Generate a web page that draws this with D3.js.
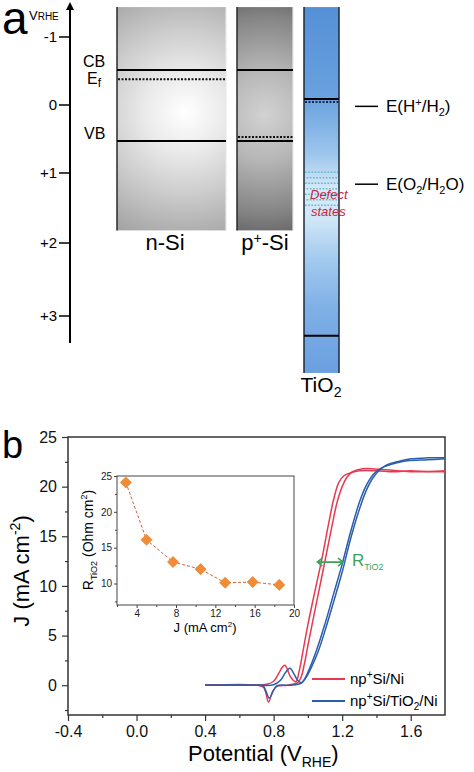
<!DOCTYPE html>
<html>
<head>
<meta charset="utf-8">
<script src="https://cdn.jsdelivr.net/npm/d3@7"></script>
<style>
  body { margin: 0; background: #fff; }
  svg { display: block; font-family: "Liberation Sans", Arial, sans-serif; }
</style>
</head>
<body>
<svg id="chart" width="474" height="772"></svg>
<script>
// ---------- panel a : band edges, V vs RHE ----------
const materials   = ["n-Si", "p+-Si", "TiO2"];
const cbLevels    = [-0.515, -0.515, -0.09];
const vbLevels    = [0.53, 0.53, 3.27];
const fermiLevels = [-0.38, 0.47, -0.045];
const boxTop      = -1.44;
const boxBottoms  = [1.82, 1.82, 3.78];
const energyTicks      = [-1, 0, 1, 2, 3];
const energyTickLabels = ["-1", "0", "+1", "+2", "+3"];
const redoxLevels = [0.02, 1.16];
const defectRange = [0.99, 1.5];

// ---------- panel b : LSV scans [V_RHE, mA cm-2] ----------
const redFwd = [[0.40,0.05],[0.60,0.05],[0.76,0.1],[0.80,0.4],[0.83,1.2],[0.85,1.8],[0.866,2.0],[0.88,1.6],
  [0.90,0.8],[0.93,0.35],[0.95,1.5],[0.97,3.3],[1.00,6.1],[1.04,9.4],[1.08,12.6],[1.12,16.2],[1.15,18.7],
  [1.18,20.4],[1.21,21.1],[1.25,21.4],[1.30,21.6],[1.40,21.6],[1.50,21.5],[1.60,21.6],[1.70,21.5],[1.80,21.5]];
const redRev = [[1.80,21.6],[1.60,21.5],[1.45,21.7],[1.32,21.8],[1.26,21.5],[1.23,21.0],[1.20,20.0],[1.17,18.4],
  [1.14,16.0],[1.11,13.4],[1.07,10.0],[1.03,6.6],[1.00,4.0],[0.98,2.2],[0.96,0.8],[0.94,0.25],[0.88,0.0],
  [0.82,-0.1],[0.795,-0.6],[0.77,-1.7],[0.755,-0.8],[0.74,-0.2],[0.70,0.0],[0.40,0.0]];
const blueFwd = [[0.40,0.0],[0.70,0.0],[0.80,0.05],[0.84,0.5],[0.87,1.3],[0.895,1.7],[0.92,1.1],[0.94,0.5],
  [0.963,0.25],[0.98,0.6],[1.00,1.3],[1.05,3.5],[1.10,6.2],[1.15,9.2],[1.20,12.2],[1.25,15.5],[1.30,18.4],
  [1.34,20.1],[1.38,21.2],[1.42,21.8],[1.46,22.1],[1.52,22.4],[1.58,22.6],[1.70,22.7],[1.80,22.8]];
const blueRev = [[1.80,22.9],[1.70,22.9],[1.60,22.8],[1.52,22.5],[1.46,22.2],[1.42,21.7],[1.38,20.9],[1.34,19.6],
  [1.30,17.7],[1.25,14.8],[1.20,11.4],[1.15,8.4],[1.10,5.5],[1.06,3.4],[1.02,1.8],[0.99,0.8],[0.96,0.2],
  [0.90,0.0],[0.82,-0.05],[0.80,-0.5],[0.775,-1.3],[0.755,-0.6],[0.74,-0.1],[0.70,0.0],[0.40,0.0]];
const arrowLevel = 12.4;
const arrowSpan  = [1.055, 1.205];

// ---------- inset ----------
const insetJ = [2.9, 5.0, 7.7, 10.5, 13.0, 15.8, 18.5];
const insetR = [24.1, 16.1, 13.0, 12.0, 10.1, 10.2, 9.8];

const svg = d3.select("#chart");
const defs = svg.append("defs");

// gradients
const gN = defs.append("radialGradient").attr("id", "gN")
  .attr("gradientUnits", "userSpaceOnUse").attr("cx", 185).attr("cy", 112).attr("r", 135);
[[0, "#ffffff"], [0.3, "#eaeaea"], [0.6, "#cdcdcd"], [1, "#a2a2a2"]]
  .forEach(s => gN.append("stop").attr("offset", s[0]).attr("stop-color", s[1]));
const gP = defs.append("radialGradient").attr("id", "gP")
  .attr("gradientUnits", "userSpaceOnUse").attr("cx", 265).attr("cy", 115).attr("r", 130);
[[0, "#d2d2d2"], [0.35, "#b6b6b6"], [0.75, "#858585"], [1, "#5c5c5c"]]
  .forEach(s => gP.append("stop").attr("offset", s[0]).attr("stop-color", s[1]));
const gT = defs.append("linearGradient").attr("id", "gT")
  .attr("gradientUnits", "userSpaceOnUse").attr("x1", 0).attr("x2", 0).attr("y1", 7).attr("y2", 373);
[[0, "#5590d6"], [0.25, "#6aa2df"], [0.4, "#9cc5ec"], [0.5, "#d8eaf9"], [0.58, "#d0e6f7"],
 [0.68, "#a6ccef"], [0.82, "#7fb0e6"], [1, "#6a9fe0"]]
  .forEach(s => gT.append("stop").attr("offset", s[0]).attr("stop-color", s[1]));

// ================= panel a =================
const ey = d3.scaleLinear().domain([-1, 0, 1, 2, 3]).range([37, 105, 173, 243, 316]);
const axX = 70;

svg.append("text").attr("x", 2).attr("y", 34).style("font-size", "46px").text("a");

const vlab = svg.append("text").attr("x", 29).attr("y", 20).style("font-size", "13px");
vlab.append("tspan").text("V");
vlab.append("tspan").style("font-size", "10px").text("RHE");

svg.append("line").attr("x1", axX).attr("x2", axX).attr("y1", 343).attr("y2", 8)
  .attr("stroke", "#000").attr("stroke-width", 2);
svg.append("path").attr("d", `M${axX - 4},10 L${axX},2 L${axX + 4},10 Z`).attr("fill", "#000");

const eTicks = svg.append("g");
energyTicks.forEach((t, i) => {
  eTicks.append("line").attr("x1", axX - 11).attr("x2", axX).attr("y1", ey(t)).attr("y2", ey(t))
    .attr("stroke", "#000").attr("stroke-width", 1.5);
  eTicks.append("text").attr("x", axX - 13).attr("y", ey(t)).attr("dy", "0.35em")
    .attr("text-anchor", "end").style("font-size", "15px").text(energyTickLabels[i]);
});

// columns: [left, right], fills
const cols = [[117, 226], [237, 293], [304, 339]];
const fills = ["url(#gN)", "url(#gP)", "url(#gT)"];

materials.forEach((m, i) => {
  const [x0, x1] = cols[i];
  svg.append("rect").attr("x", x0).attr("y", ey(boxTop)).attr("width", x1 - x0)
    .attr("height", ey(boxBottoms[i]) - ey(boxTop)).attr("fill", fills[i]);
  if (i < 2) {
    svg.append("line").attr("x1", x0).attr("x2", x0).attr("y1", ey(boxTop)).attr("y2", ey(boxBottoms[i]))
      .attr("stroke", "#2a2a2a").attr("stroke-width", 1.5);
    svg.append("line").attr("x1", x1).attr("x2", x1).attr("y1", ey(boxTop)).attr("y2", ey(boxBottoms[i]))
      .attr("stroke", "#e8e8e8").attr("stroke-width", 1.2);
  } else {
    [x0, x1].forEach(x => svg.append("line").attr("x1", x).attr("x2", x)
      .attr("y1", ey(boxTop)).attr("y2", ey(boxBottoms[i])).attr("stroke", "#1c2a3a").attr("stroke-width", 1.5));
  }
  svg.append("line").attr("x1", x0).attr("x2", x1).attr("y1", ey(cbLevels[i])).attr("y2", ey(cbLevels[i]))
    .attr("stroke", "#000").attr("stroke-width", 2);
  svg.append("line").attr("x1", x0).attr("x2", x1).attr("y1", ey(vbLevels[i])).attr("y2", ey(vbLevels[i]))
    .attr("stroke", "#000").attr("stroke-width", 2);
  svg.append("line").attr("x1", x0 + 1).attr("x2", x1).attr("y1", ey(fermiLevels[i])).attr("y2", ey(fermiLevels[i]))
    .attr("stroke", i === 2 ? "#1a2a50" : "#111").attr("stroke-width", 2).attr("stroke-dasharray", "2,1.5");
});

// defect states (dotted rows)
const tio2 = cols[2];
d3.range(ey(defectRange[0]), ey(defectRange[1]), 5.5).forEach((yy, k) => {
  svg.append("line").attr("x1", tio2[0] + 1).attr("x2", tio2[1] - 1).attr("y1", yy).attr("y2", yy)
    .attr("stroke", "#5fb9c6").attr("stroke-width", 1.4)
    .attr("stroke-dasharray", "1.6,1.6").attr("stroke-dashoffset", k % 2 ? 1.6 : 0);
});
svg.append("text").attr("x", 310).attr("y", 199).style("font-size", "13px").style("font-style", "italic")
  .attr("fill", "#c4283f").text("Defect");
svg.append("text").attr("x", 311).attr("y", 216).style("font-size", "13px").style("font-style", "italic")
  .attr("fill", "#c4283f").text("states");

// band labels
svg.append("text").attr("x", 83).attr("y", 67).style("font-size", "16px").text("CB");
const ef = svg.append("text").attr("x", 87).attr("y", 84).style("font-size", "16px");
ef.append("tspan").text("E");
ef.append("tspan").attr("dy", 3).style("font-size", "12px").text("f");
svg.append("text").attr("x", 84).attr("y", 139).style("font-size", "16px").text("VB");

// material labels
svg.append("text").attr("x", 165).attr("y", 250).attr("text-anchor", "middle").style("font-size", "22px").text("n-Si");
const pl = svg.append("text").attr("x", 265).attr("y", 250).attr("text-anchor", "middle").style("font-size", "22px");
pl.append("tspan").text("p");
pl.append("tspan").attr("dy", -7).style("font-size", "14px").text("+");
pl.append("tspan").attr("dy", 7).text("-Si");
const tl = svg.append("text").attr("x", 321).attr("y", 392).attr("text-anchor", "middle").style("font-size", "21px");
tl.append("tspan").text("TiO");
tl.append("tspan").attr("dy", 5).style("font-size", "14px").text("2");

// redox levels
redoxLevels.forEach(v => {
  svg.append("line").attr("x1", 355).attr("x2", 378).attr("y1", ey(v)).attr("y2", ey(v))
    .attr("stroke", "#000").attr("stroke-width", 1.5);
});
const r1 = svg.append("text").attr("x", 386).attr("y", ey(redoxLevels[0]) + 6).style("font-size", "17px");
r1.append("tspan").text("E(H");
r1.append("tspan").attr("dy", -6).style("font-size", "11px").text("+");
r1.append("tspan").attr("dy", 6).text("/H");
r1.append("tspan").attr("dy", 4).style("font-size", "11px").text("2");
r1.append("tspan").attr("dy", -4).text(")");
const r2 = svg.append("text").attr("x", 386).attr("y", ey(redoxLevels[1]) + 6).style("font-size", "17px");
r2.append("tspan").text("E(O");
r2.append("tspan").attr("dy", 4).style("font-size", "11px").text("2");
r2.append("tspan").attr("dy", -4).text("/H");
r2.append("tspan").attr("dy", 4).style("font-size", "11px").text("2");
r2.append("tspan").attr("dy", -4).text("O)");

// ================= panel b =================
const x = d3.scaleLinear().domain([-0.4, 1.8]).range([68, 445]);
const y = d3.scaleLinear().domain([-3, 25]).range([715, 437]);

svg.append("text").attr("x", 2).attr("y", 458).style("font-size", "38px").text("b");

const gx = svg.append("g").attr("transform", `translate(0,${y.range()[0]})`)
  .call(d3.axisBottom(x).tickValues([-0.4, 0, 0.4, 0.8, 1.2, 1.6]).tickSize(6).tickPadding(5)
    .tickFormat(d => d.toFixed(1)));
svg.append("g").attr("transform", `translate(0,${y.range()[0]})`)
  .call(d3.axisBottom(x).tickValues(d3.range(-0.2, 1.8, 0.4)).tickSize(3).tickFormat(""));
const gy = svg.append("g").attr("transform", `translate(${x.range()[0]},0)`)
  .call(d3.axisLeft(y).tickValues([0, 5, 10, 15, 20, 25]).tickSize(6).tickPadding(5));
svg.append("g").attr("transform", `translate(${x.range()[0]},0)`)
  .call(d3.axisLeft(y).tickValues([-2.5, 2.5, 7.5, 12.5, 17.5, 22.5]).tickSize(3).tickFormat(""));
svg.selectAll(".domain").remove();
svg.selectAll(".tick line").attr("stroke", "#333").attr("stroke-width", 1.2);
gx.selectAll("text").style("font-size", "16px").style("font-family", "Liberation Sans, Arial").attr("fill", "#111");
gy.selectAll("text").style("font-size", "16px").style("font-family", "Liberation Sans, Arial").attr("fill", "#111");

svg.append("rect").attr("x", 68).attr("y", 437).attr("width", 445 - 68).attr("height", 715 - 437)
  .attr("fill", "none").attr("stroke", "#333").attr("stroke-width", 1.5);

const yl = svg.append("text").attr("transform", "translate(29,571) rotate(-90)")
  .attr("text-anchor", "middle").style("font-size", "22px");
yl.append("tspan").text("J (mA cm");
yl.append("tspan").attr("dy", -9).style("font-size", "14px").text("-2");
yl.append("tspan").attr("dy", 9).text(")");

const xl = svg.append("text").attr("x", 188).attr("y", 761).style("font-size", "22px");
xl.append("tspan").text("Potential (V");
xl.append("tspan").attr("dy", 6).style("font-size", "14px").text("RHE");
xl.append("tspan").attr("dy", -6).text(")");

// curves
const line = d3.line().x(d => x(d[0])).y(d => y(d[1])).curve(d3.curveCatmullRom.alpha(0.5));
const red = "#e63a52", blue = "#2b5eac";
[[redFwd, red], [redRev, red], [blueFwd, blue], [blueRev, blue]].forEach(([d, c]) => {
  svg.append("path").datum(d).attr("d", line).attr("fill", "none").attr("stroke", c).attr("stroke-width", 1.5);
});

// R_TiO2 arrow
const green = "#3ba35a";
const ax0 = x(arrowSpan[0]), ax1 = x(arrowSpan[1]), ay = y(arrowLevel);
svg.append("path")
  .attr("d", `M${ax0},${ay} L${ax1},${ay} M${ax0 + 5},${ay - 4} L${ax0},${ay} L${ax0 + 5},${ay + 4} M${ax1 - 5},${ay - 4} L${ax1},${ay} L${ax1 - 5},${ay + 4}`)
  .attr("fill", "none").attr("stroke", green).attr("stroke-width", 1.6);
const rl = svg.append("text").attr("x", 352).attr("y", 566).attr("fill", green).style("font-size", "17px");
rl.append("tspan").text("R");
rl.append("tspan").attr("dy", 4).style("font-size", "9px").text("TiO2");

// legend
[[red, "Si/Ni", 679], [blue, null, 701]].forEach(([c, t, ly]) => {
  svg.append("line").attr("x1", 312).attr("x2", 345).attr("y1", ly).attr("y2", ly)
    .attr("stroke", c).attr("stroke-width", 1.8);
  const tx = svg.append("text").attr("x", 350).attr("y", ly + 5).style("font-size", "15px");
  tx.append("tspan").text("np");
  tx.append("tspan").attr("dy", -6).style("font-size", "10px").text("+");
  if (t) {
    tx.append("tspan").attr("dy", 6).text("Si/Ni");
  } else {
    tx.append("tspan").attr("dy", 6).text("Si/TiO");
    tx.append("tspan").attr("dy", 4).style("font-size", "10px").text("2");
    tx.append("tspan").attr("dy", -4).text("/Ni");
  }
});

// ================= inset =================
const xi = d3.scaleLinear().domain([2, 20]).range([117, 294]);
const yi = d3.scaleLinear().domain([7, 25]).range([605, 476]);
const inset = svg.append("g");
inset.append("rect").attr("x", 117).attr("y", 476).attr("width", 294 - 117).attr("height", 605 - 476)
  .attr("fill", "#fff").attr("stroke", "#444").attr("stroke-width", 1);
const ix = inset.append("g").attr("transform", "translate(0,605)")
  .call(d3.axisBottom(xi).tickValues([4, 8, 12, 16, 20]).tickSize(3).tickPadding(2));
inset.append("g").attr("transform", "translate(0,605)")
  .call(d3.axisBottom(xi).tickValues([2, 6, 10, 14, 18]).tickSize(2).tickFormat(""));
const iy = inset.append("g").attr("transform", "translate(117,0)")
  .call(d3.axisLeft(yi).tickValues([10, 15, 20, 25]).tickSize(3).tickPadding(2));
inset.append("g").attr("transform", "translate(117,0)")
  .call(d3.axisLeft(yi).tickValues([7.5, 12.5, 17.5, 22.5]).tickSize(2).tickFormat(""));
inset.selectAll(".domain").remove();
inset.selectAll(".tick line").attr("stroke", "#444");
inset.selectAll(".tick text").style("font-size", "10px").style("font-family", "Liberation Sans, Arial").attr("fill", "#222");

const pts = insetJ.map((j, i) => [j, insetR[i]]);
inset.append("path").datum(pts).attr("d", d3.line().x(d => xi(d[0])).y(d => yi(d[1])))
  .attr("fill", "none").attr("stroke", "#d0623c").attr("stroke-width", 1).attr("stroke-dasharray", "3,2");
inset.selectAll(".pt").data(pts).enter().append("path")
  .attr("d", d3.symbol(d3.symbolSquare, 62))
  .attr("transform", d => `translate(${xi(d[0])},${yi(d[1])}) rotate(45)`)
  .attr("fill", "#f28c34").attr("stroke", "#e07a28").attr("stroke-width", 0.6);

const iyl = inset.append("text").attr("transform", "translate(93,540) rotate(-90)")
  .attr("text-anchor", "middle").style("font-size", "14px");
iyl.append("tspan").text("R");
iyl.append("tspan").attr("dy", 4).style("font-size", "9px").text("TiO2");
iyl.append("tspan").attr("dy", -4).text(" (Ohm cm");
iyl.append("tspan").attr("dy", -6).style("font-size", "9px").text("2");
iyl.append("tspan").attr("dy", 6).text(")");
const ixl = inset.append("text").attr("x", 205).attr("y", 632).attr("text-anchor", "middle").style("font-size", "13px");
ixl.append("tspan").text("J (mA cm");
ixl.append("tspan").attr("dy", -5).style("font-size", "8px").text("2");
ixl.append("tspan").attr("dy", 5).text(")");
</script>
</body>
</html>
